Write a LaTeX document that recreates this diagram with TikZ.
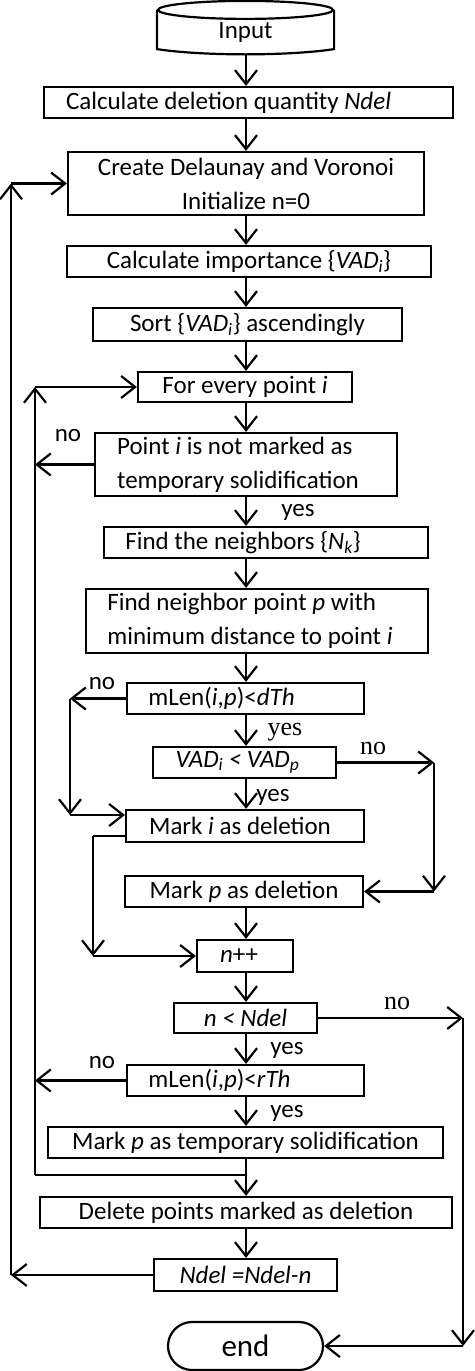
\documentclass[tikz,border=0pt]{standalone}
\usepackage{fontspec}
\setmainfont{Carlito}
\newfontfamily\tnr{Liberation Serif}
\usetikzlibrary{arrows.meta}

\begin{document}
\begin{tikzpicture}%
  [x=1pt,y=-1pt,line width=2.2pt,
   arr/.style={-{Straight Barb[length=14pt,width=22pt]}}]
  \tikzstyle{box node}=[rectangle,draw,inner sep=0pt,minimum height=31pt,
    font=\fontsize{25}{34}\selectfont]
  \tikzstyle{lbl}=[inner sep=0pt,font=\fontsize{25}{28}\selectfont]
  \tikzstyle{tlbl}=[inner sep=0pt,font=\fontsize{26}{28}\selectfont\tnr]
  \useasboundingbox (0,0) rectangle (474,1371);
  \coordinate (ax) at (246,0);
  \coordinate (ox) at (11,0);
  \coordinate (qx) at (35,0);
  \coordinate (lx) at (70,0);
  \coordinate (kx) at (93,0);
  \coordinate (rx) at (434,0);
  \coordinate (sx) at (463,0);
  \coordinate (jn) at (246,1175);
  % input
  \node(in)[inner sep=0pt,minimum width=175pt,minimum height=42pt,
    font=\fontsize{25}{28}\selectfont] at (245.5,32) {Input};
  \draw (in.north west) -- ([yshift=5pt]in.south west)
    .. controls +(45,7) and +(-45,7) .. ([yshift=5pt]in.south east)
    -- (in.north east);
  \draw (in.north) ellipse [x radius=87.5pt,y radius=9pt];
  % boxes
  \node(nd)[box node,minimum width=409pt] at (248.5,102.5)
    {Calculate deletion quantity \textit{Ndel}\hspace{40pt}\mbox{}};
  \node(cr)[box node,minimum width=356pt,minimum height=63pt,align=center] at (246,183.5)
    {Create Delaunay and Voronoi\\Initialize n=0};
  \node(imp)[box node,minimum width=364pt] at (249,261.5)
    {Calculate importance \{\textit{VAD\textsubscript{i}}\}};
  \node(srt)[box node,minimum width=309pt,minimum height=33pt] at (247.5,324.5)
    {Sort \{\textit{VAD\textsubscript{i}}\} ascendingly};
  \node(for)[box node,minimum width=214pt,minimum height=30pt] at (245,387)
    {For every point \textit{i}};
  \node(pt)[box node,minimum width=302pt,minimum height=63pt,align=left] at (246,464.5)
    {Point \textit{i} is not marked as\\temporary solidification\hspace{16pt}\mbox{}};
  \node(nbr)[box node,minimum width=324pt] at (266,542.5)
    {Find the neighbors \{\textit{N\textsubscript{k}}\}\hspace{46pt}\mbox{}};
  \node(fp)[box node,minimum width=342pt,minimum height=64pt,align=left] at (257,621)
    {Find neighbor point \textit{p} with\\minimum distance to point \textit{i}\hspace{14pt}\mbox{}};
  \node(dth)[box node,minimum width=237pt] at (245.5,698.5)
    {mLen(\textit{i},\textit{p})<\textit{dTh}\hspace{48pt}\mbox{}};
  \node(vad)[box node,minimum width=183pt] at (244.5,762.5)
    {\textit{VAD\textsubscript{i} < VAD\textsubscript{p}}\hspace{14pt}\mbox{}};
  \node(mi)[box node,minimum width=238pt,minimum height=32pt] at (245,826)
    {Mark \textit{i} as deletion\hspace{10pt}\mbox{}};
  \node(mp)[box node,minimum width=238pt] at (244,891.5)
    {Mark \textit{p} as deletion};
  \node(np)[box node,minimum width=96pt,minimum height=32pt] at (245,956)
    {\textit{n}++\hspace{12pt}\mbox{}};
  \node(nlt)[box node,minimum width=143pt,minimum height=30pt] at (245.5,1018)
    {\textit{n < Ndel}};
  \node(rth)[box node,minimum width=237pt] at (245.5,1080.5)
    {mLen(\textit{i},\textit{p})<\textit{rTh}\hspace{52pt}\mbox{}};
  \node(mt)[box node,minimum width=395pt] at (245.5,1142.5)
    {Mark \textit{p} as temporary solidification};
  \node(del)[box node,minimum width=412pt] at (246,1212.5)
    {Delete points marked as deletion};
  \node(fin)[box node,minimum width=183pt,minimum height=32pt] at (245.5,1275)
    {\textit{Ndel =Ndel-n}};
  \node(stop)[box node,rounded corners=24pt,minimum width=155pt,minimum height=48pt,
    font=\fontsize{31}{34}\selectfont] at (245.5,1346) {end};
  % labels
  \node(no1)[lbl] at (68,436) {no};
  \node(yes1)[lbl] at (298,512) {yes};
  \node(no2)[lbl] at (102,684) {no};
  \node(yes2)[tlbl] at (285,732) {yes};
  \node(no3)[tlbl] at (373,748) {no};
  \node(yes3)[lbl] at (273,797) {yes};
  \node(no4)[tlbl] at (397,1003) {no};
  \node(yes4)[lbl] at (287,1050) {yes};
  \node(no5)[lbl] at (102,1063) {no};
  \node(yes5)[lbl] at (287,1113) {yes};
  % main flow
  \foreach \a/\b in {in/nd,nd/cr,cr/imp,imp/srt,srt/for,for/pt,pt/nbr,nbr/fp,
      fp/dth,dth/vad,vad/mi,mp/np,np/nlt,nlt/rth,rth/mt,del/fin}
    \draw[arr] (\a.south -| ax) -- (\b.north -| ax);
  % inner loop
  \draw (mt.south -| ax) -- (jn);
  \draw[arr] (jn) -- (del.north -| ax);
  \draw (jn) -- (jn -| qx);
  \draw[arr] (jn -| qx) -- (for.west -| qx);
  \draw[arr] (for.west -| qx) -- (for.west);
  \draw[arr] (pt.west) -- (pt.west -| qx);
  \draw[arr] (rth.west) -- (rth.west -| qx);
  % outer loop
  \draw[arr] (fin.west) -- (fin.west -| ox);
  \draw[arr] (fin.west -| ox) -- (cr.west -| ox);
  \draw[arr] (cr.west -| ox) -- (cr.west);
  % dTh branch
  \coordinate (mi1) at ([yshift=11pt]mi.west);
  \coordinate (mi2) at ([yshift=-10pt]mi.west);
  \draw[arr] (dth.west) -- (dth.west -| lx);
  \draw[arr] (dth.west -| lx) -- (mi1 -| lx);
  \draw[arr] (mi1 -| lx) -- (mi1);
  \draw (mi2) -- (mi2 -| kx);
  \draw[arr] (mi2 -| kx) -- (np.west -| kx);
  \draw[arr] (np.west -| kx) -- (np.west);
  % VAD branch
  \draw[arr] (vad.east) -- (vad.east -| rx);
  \draw[arr] (vad.east -| rx) -- (mp.east -| rx);
  \draw[arr] (mp.east -| rx) -- (mp.east);
  % n<Ndel branch
  \draw[arr] (nlt.east) -- (nlt.east -| sx);
  \draw[arr] (nlt.east -| sx) -- (stop.east -| sx);
  \draw[arr] (stop.east -| sx) -- (stop.east);
\end{tikzpicture}
\end{document}
